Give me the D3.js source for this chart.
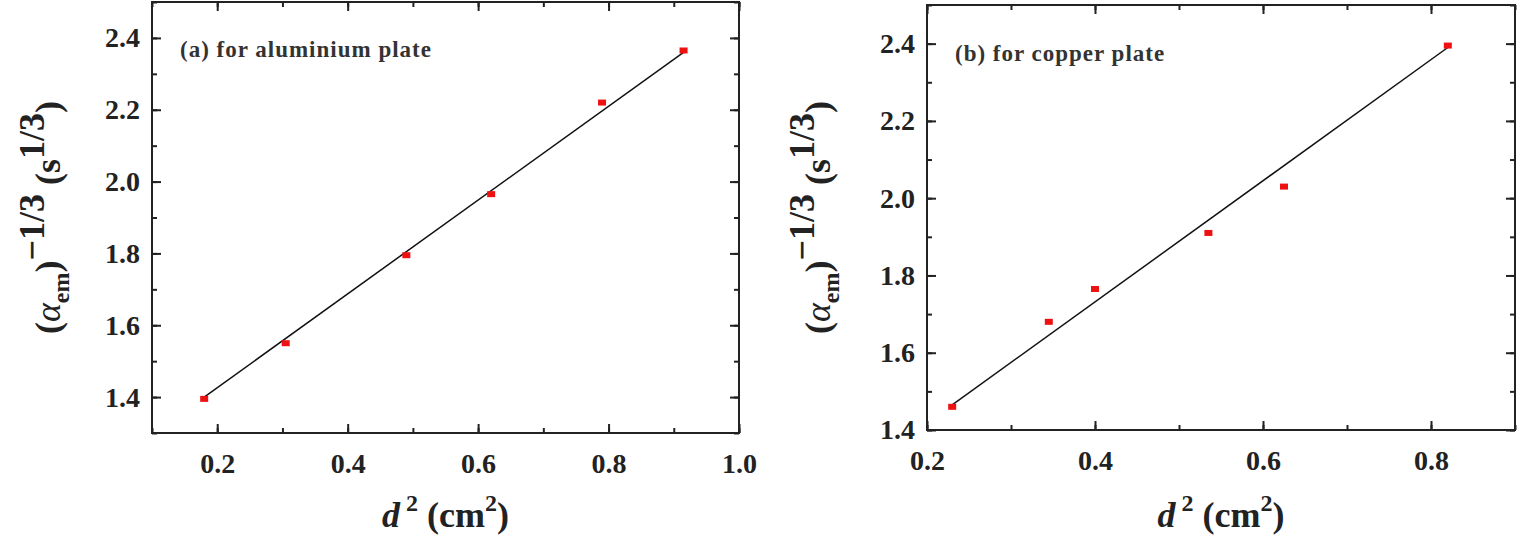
<!DOCTYPE html>
<html><head><meta charset="utf-8">
<script src="https://cdn.jsdelivr.net/npm/d3@7"></script>
<style>body{margin:0;background:#fff}svg{display:block}svg text{font-family:"Liberation Serif","Times New Roman","DejaVu Serif",serif !important;font-weight:bold}</style>
</head><body>
<script>
const alX = [0.18, 0.305, 0.49, 0.62, 0.79, 0.915];
const alY = [1.395, 1.55, 1.795, 1.965, 2.22, 2.365];
const alFit = [[0.18, 1.40], [0.915, 2.36]];
const cuX = [0.23, 0.345, 0.40, 0.535, 0.625, 0.82];
const cuY = [1.46, 1.68, 1.765, 1.91, 2.03, 2.395];
const cuFit = [[0.23, 1.465], [0.82, 2.39]];
const alXTicks = [0.2, 0.4, 0.6, 0.8, 1.0];
const cuXTicks = [0.2, 0.4, 0.6, 0.8];
const alYTicks = [1.4, 1.6, 1.8, 2.0, 2.2, 2.4];
const cuYTicks = [1.4, 1.6, 1.8, 2.0, 2.2, 2.4];
const FONT = "Liberation Serif, Times New Roman, DejaVu Serif, serif";

const svg = d3.select("body").append("svg").attr("width",1517).attr("height",538).attr("font-family",FONT);

function panel(o){
  const g = svg.append("g");
  const x = d3.scaleLinear().domain(o.xd).range([o.l,o.r]);
  const y = d3.scaleLinear().domain(o.yd).range([o.b,o.t]);
  const minX = d3.range(o.xd[0], o.xd[1]+1e-9, 0.1).map(v=>+v.toFixed(2));
  const minY = d3.range(o.yd[0], o.yd[1]+1e-9, 0.1).map(v=>+v.toFixed(2));
  const fmt = d3.format(".1f");
  const clean = s=>{s.select(".domain").remove();s.attr("font-family",FONT);};
  g.append("g").attr("transform",`translate(0,${o.b})`).call(d3.axisBottom(x).tickValues(minX).tickSize(-5).tickFormat("")).call(clean);
  g.append("g").attr("transform",`translate(0,${o.b})`).call(d3.axisBottom(x).tickValues(o.xt).tickSize(-9).tickPadding(20).tickFormat(fmt))
    .call(clean).call(s=>s.selectAll("text").attr("font-size",28).attr("fill","#222"));
  g.append("g").attr("transform",`translate(0,${o.t})`).call(d3.axisTop(x).tickValues(minX).tickSize(-5).tickFormat("")).call(clean);
  g.append("g").attr("transform",`translate(0,${o.t})`).call(d3.axisTop(x).tickValues(o.xt).tickSize(-9).tickFormat("")).call(clean);
  g.append("g").attr("transform",`translate(${o.l},0)`).call(d3.axisLeft(y).tickValues(minY).tickSize(-5).tickFormat("")).call(clean);
  g.append("g").attr("transform",`translate(${o.l},0)`).call(d3.axisLeft(y).tickValues(o.yt).tickSize(-9).tickPadding(12).tickFormat(fmt))
    .call(clean).call(s=>s.selectAll("text").attr("font-size",28).attr("fill","#222"));
  g.append("g").attr("transform",`translate(${o.r},0)`).call(d3.axisRight(y).tickValues(minY).tickSize(-5).tickFormat("")).call(clean);
  g.append("g").attr("transform",`translate(${o.r},0)`).call(d3.axisRight(y).tickValues(o.yt).tickSize(-9).tickFormat("")).call(clean);
  g.selectAll(".tick line").attr("stroke","#222").attr("stroke-width",2);
  g.append("rect").attr("x",o.l).attr("y",o.t).attr("width",o.r-o.l).attr("height",o.b-o.t)
    .attr("fill","none").attr("stroke","#222").attr("stroke-width",2);
  g.append("path").datum(o.fit).attr("d",d3.line().x(d=>x(d[0])).y(d=>y(d[1])))
    .attr("stroke","#111").attr("stroke-width",1.5).attr("fill","none");
  g.selectAll("rect.pt").data(o.xs.map((v,i)=>[v,o.ys[i]])).enter().append("rect").attr("class","pt")
    .attr("x",d=>x(d[0])-4).attr("y",d=>y(d[1])-3).attr("width",8).attr("height",6).attr("fill","#ee1111");
  g.append("text").attr("x",o.l+28).attr("y",o.labY).attr("font-size",23).attr("fill","#333").attr("letter-spacing",1).text(o.label);
  const xt = g.append("text").attr("x",(o.l+o.r)/2).attr("y",527).attr("text-anchor","middle").attr("font-size",36).attr("fill","#222");
  xt.append("tspan").attr("font-style","italic").text("d");
  xt.append("tspan").attr("font-size",24).attr("dy",-16).text(" 2");
  xt.append("tspan").attr("dy",16).text(" (cm");
  xt.append("tspan").attr("font-size",24).attr("dy",-16).text("2");
  xt.append("tspan").attr("dy",16).text(")");
  const yt = g.append("text").attr("transform",`translate(${o.yx},${(o.t+o.b)/2}) rotate(-90)`)
    .attr("text-anchor","middle").attr("font-size",36).attr("fill","#222");
  yt.append("tspan").text("(");
  yt.append("tspan").attr("font-style","italic").attr("font-weight","normal").text("α");
  yt.append("tspan").attr("font-size",24).attr("dy",9).text("em");
  yt.append("tspan").attr("dy",-9).text(")");
  yt.append("tspan").attr("dy",-16).text("−1/3");
  yt.append("tspan").attr("dy",16).text(" (s");
  yt.append("tspan").attr("dy",-16).text("1/3");
  yt.append("tspan").attr("dy",16).text(")");
}
panel({l:152,r:739,t:2,b:433,xd:[0.1,1.0],yd:[1.3,2.5],xt:alXTicks,yt:alYTicks,xs:alX,ys:alY,fit:alFit,label:"(a) for aluminium plate",labY:57,yx:60});
panel({l:927,r:1515,t:5,b:430,xd:[0.2,0.9],yd:[1.4,2.5],xt:cuXTicks,yt:cuYTicks,xs:cuX,ys:cuY,fit:cuFit,label:"(b) for copper plate",labY:61,yx:830});
</script>
</body></html>
